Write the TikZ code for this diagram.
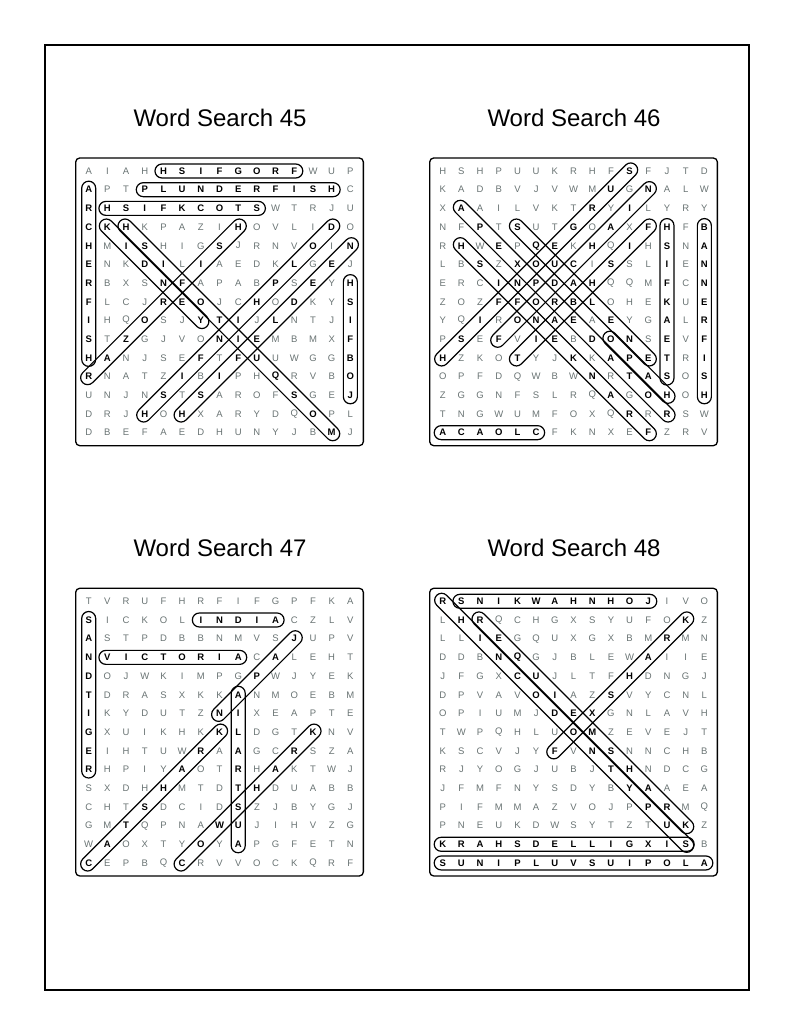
\documentclass[tikz,border=0pt]{standalone}
\usepackage{fontspec}
\setmainfont{Liberation Sans}
\usetikzlibrary{calc}
\definecolor{wsgray}{RGB}{105,115,115}
\tikzset{
  wsg/.style={text=wsgray,font=\fontsize{9.5}{10}\selectfont,inner sep=0pt},
  wsb/.style={text=black,font=\fontsize{9.5}{10}\selectfont\bfseries,inner sep=0pt},
  wstitle/.style={font=\fontsize{24}{28}\selectfont},
}
\newcommand\wsgrid[4]{%
  \foreach \rowlist [count=\r] in {#4} {
    \foreach \l [count=\c] in \rowlist {
      \ifnum\number\expandafter`\l<97 \def\st{wsb}\else\def\st{wsg}\fi
      \node[\st] (#1-\c-\r) at ({#2+(\c-1)*18.69},{#3+(\r-1)*18.69}) {\uppercase\expandafter{\l}\vphantom{A}};
    }
  }
  \draw[line width=1.3pt,rounded corners=4pt] ({#2-13},{#3-13}) rectangle ({#2+14*18.69+13},{#3+14*18.69+13});
}
\newcommand\wsword[2]{%
  \path let \p1=($(#2)-(#1)$), \n1={atan2(\y1,\x1)}, \n2={veclen(\x1,\y1)} in
    node[draw,line width=1.2pt,rounded corners=7pt,minimum width=\n2+17pt,minimum height=14pt,inner sep=0pt,rotate=\n1] at ($(#1)!0.5!(#2)$) {};
}
\begin{document}
\begin{tikzpicture}[x=1pt,y=-1pt]
\useasboundingbox (0,0) rectangle (794,1035);
\draw[line width=2.6pt] (45,45) rectangle (749,990);
\node[wstitle] (t45) at (220,118) {Word Search 45};
\node[wstitle] (t46) at (574,118) {Word Search 46};
\node[wstitle] (t47) at (220,548) {Word Search 47};
\node[wstitle] (t48) at (574,548) {Word Search 48};
% grid 45
\wsgrid{a}{88.7}{171}{
{a,i,a,h,H,S,I,F,G,O,R,F,w,u,p},
{A,p,t,P,L,U,N,D,E,R,F,I,S,H,c},
{R,H,S,I,F,K,C,O,T,S,w,t,r,j,u},
{C,K,H,k,p,a,z,i,H,o,v,l,i,D,o},
{H,m,I,S,h,i,g,S,j,r,n,v,O,i,N},
{E,n,k,D,I,l,I,a,e,d,k,L,g,E,j},
{R,b,x,s,N,F,a,p,a,b,P,s,E,y,H},
{F,l,c,j,R,E,O,j,c,H,o,D,k,y,S},
{I,h,q,O,s,j,Y,T,I,j,L,n,t,j,I},
{S,t,Z,g,j,v,o,N,I,E,m,b,m,x,F},
{H,A,n,j,s,e,F,t,F,U,u,w,g,g,B},
{R,n,a,t,z,I,b,I,p,h,Q,r,v,b,O},
{u,n,j,n,S,t,S,a,r,o,f,S,g,e,J},
{d,r,j,H,o,H,x,a,r,y,d,q,O,p,l},
{d,b,e,f,a,e,d,h,u,n,y,j,b,M,j}}
\wsword{a-5-1}{a-12-1}
\wsword{a-4-2}{a-14-2}
\wsword{a-2-3}{a-10-3}
\wsword{a-1-2}{a-1-11}
\wsword{a-15-7}{a-15-13}
\wsword{a-2-4}{a-7-9}
\wsword{a-3-4}{a-14-15}
\wsword{a-1-12}{a-9-4}
\wsword{a-4-14}{a-14-4}
\wsword{a-6-14}{a-15-5}
% grid 46
\wsgrid{b}{442.7}{171}{
{h,s,h,p,u,u,k,r,h,f,S,f,j,t,d},
{k,a,d,b,v,j,v,w,m,U,g,N,a,l,w},
{x,A,a,i,l,v,k,t,R,y,I,l,y,r,y},
{n,f,P,t,S,u,t,G,o,A,x,F,H,f,B},
{r,H,w,E,p,Q,E,k,H,q,I,h,S,n,A},
{l,b,S,z,X,O,U,C,i,S,s,l,I,e,N},
{e,r,c,I,N,P,D,A,H,q,q,m,F,c,N},
{z,o,z,F,F,O,R,B,L,o,h,e,K,u,E},
{y,q,I,r,O,N,A,E,a,E,y,g,A,l,R},
{p,S,e,F,v,I,E,b,D,O,N,s,E,v,F},
{H,z,k,o,T,y,j,K,k,A,P,E,T,r,I},
{o,p,f,d,q,w,b,w,N,r,T,A,S,o,S},
{z,g,g,n,f,s,l,r,q,A,g,O,H,o,H},
{t,n,g,w,u,m,f,o,x,q,R,r,R,s,w},
{A,C,A,O,L,C,f,k,n,x,e,F,z,r,v}}
\wsword{b-1-15}{b-6-15}
\wsword{b-15-4}{b-15-13}
\wsword{b-13-4}{b-13-12}
\wsword{b-1-11}{b-11-1}
\wsword{b-2-3}{b-13-14}
\wsword{b-2-5}{b-12-15}
\wsword{b-5-4}{b-12-11}
\wsword{b-10-10}{b-13-13}
\wsword{b-4-10}{b-12-2}
\wsword{b-5-11}{b-12-4}
% grid 47
\wsgrid{c}{88.7}{601.3}{
{t,v,r,u,f,h,r,f,i,f,g,p,f,k,a},
{S,i,c,k,o,l,I,N,D,I,A,c,z,l,v},
{A,s,t,p,d,b,b,n,m,v,s,J,u,p,v},
{N,V,I,C,T,O,R,I,A,c,A,l,e,h,t},
{D,o,j,w,k,i,m,p,g,P,w,j,y,e,k},
{T,d,r,a,s,x,k,k,A,n,m,o,e,b,m},
{I,k,y,d,u,t,z,N,I,x,e,a,p,t,e},
{G,x,u,i,k,h,k,K,L,d,g,t,K,n,v},
{E,i,h,t,u,w,R,a,A,g,c,R,s,z,a},
{R,h,p,i,y,A,o,t,R,h,A,k,t,w,j},
{s,x,d,h,H,m,t,d,T,H,d,u,a,b,b},
{c,h,t,S,d,c,i,d,S,z,j,b,y,g,j},
{g,m,T,q,p,n,a,W,U,j,i,h,v,z,g},
{w,A,o,x,t,y,O,y,A,p,g,f,e,t,n},
{C,e,p,b,q,C,r,v,v,o,c,k,q,r,f}}
\wsword{c-1-2}{c-1-10}
\wsword{c-7-2}{c-11-2}
\wsword{c-2-4}{c-9-4}
\wsword{c-9-6}{c-9-14}
\wsword{c-8-7}{c-12-3}
\wsword{c-1-15}{c-8-8}
\wsword{c-6-15}{c-13-8}
% grid 48
\wsgrid{d}{442.7}{601.3}{
{R,S,N,I,K,W,A,H,N,H,O,J,i,v,o},
{l,H,R,q,c,h,g,x,s,y,u,f,o,K,z},
{l,l,I,E,g,q,u,x,g,x,b,m,R,m,n},
{d,d,b,N,Q,g,j,b,l,e,w,A,i,i,e},
{j,f,g,x,C,U,j,l,t,f,H,d,n,g,j},
{d,p,v,a,v,O,I,a,z,S,v,y,c,n,l},
{o,p,i,u,m,j,D,E,X,g,n,l,a,v,h},
{t,w,p,q,h,l,u,O,M,z,e,v,e,j,t},
{k,s,c,v,j,y,F,v,N,S,n,n,c,h,b},
{r,j,y,o,g,j,u,b,j,T,H,n,d,c,g},
{j,f,m,f,n,y,s,d,y,b,Y,A,a,e,a},
{p,i,f,m,m,a,z,v,o,j,p,P,R,m,q},
{p,n,e,u,k,d,w,s,y,t,z,t,U,K,z},
{K,R,A,H,S,D,E,L,L,I,G,X,I,S,b},
{S,U,N,I,P,L,U,V,S,U,I,P,O,L,A}}
\wsword{d-2-1}{d-12-1}
\wsword{d-1-14}{d-14-14}
\wsword{d-1-15}{d-15-15}
\wsword{d-1-1}{d-14-14}
\wsword{d-3-2}{d-14-13}
\wsword{d-7-9}{d-14-2}
\end{tikzpicture}
\end{document}
